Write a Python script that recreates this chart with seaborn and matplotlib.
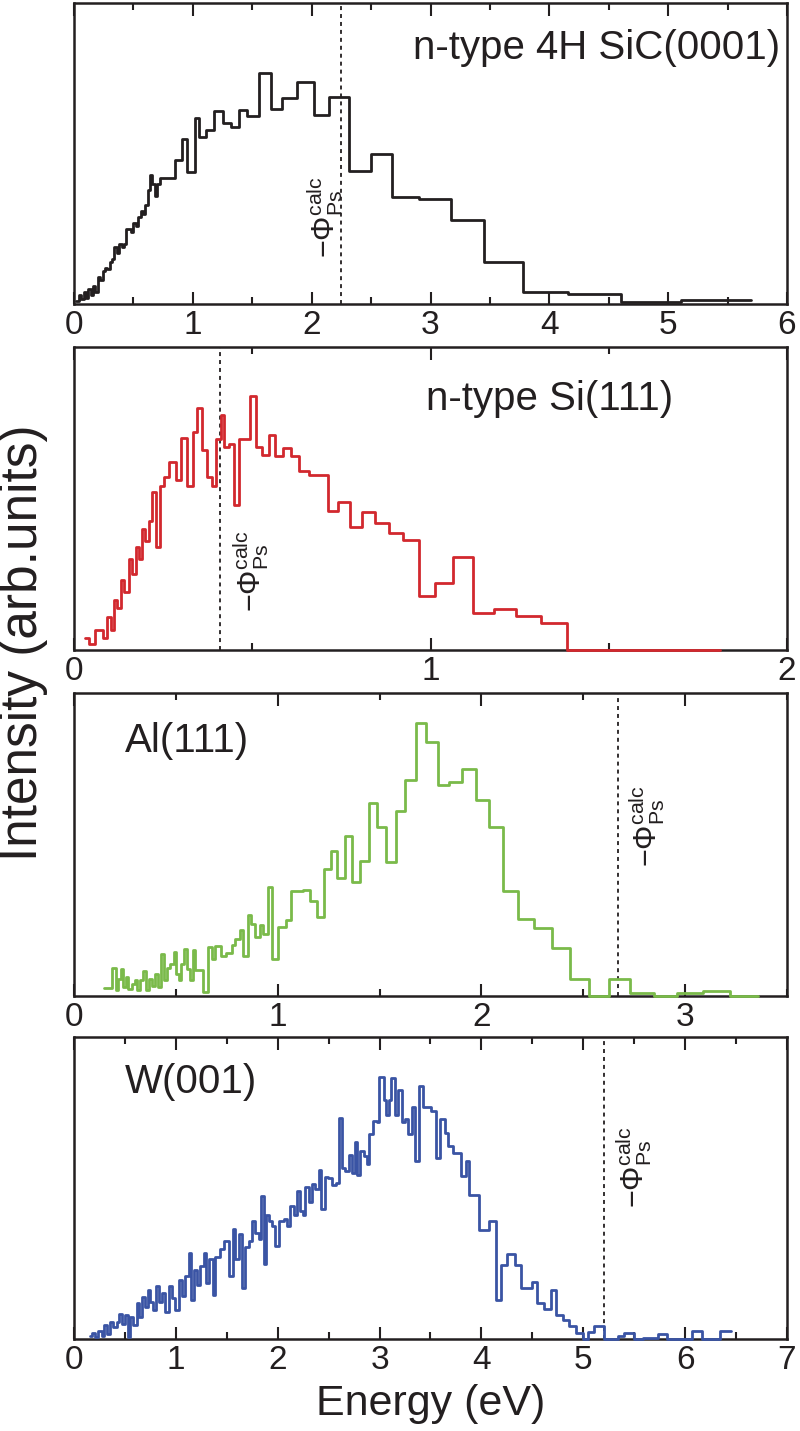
import numpy as np
import pandas as pd
import matplotlib
matplotlib.use("Agg")
import matplotlib.pyplot as plt
from matplotlib.ticker import MultipleLocator
import seaborn as sns

# intensity, as a fraction of each panel's height
# each panel: left bin edges, bin values, last right edge, Phi_Ps position

# n-type 4H SiC(0001)
sic_left = [0.02, 0.04, 0.06, 0.08, 0.10, 0.12, 0.14, 0.16, 0.18, 0.20,
            0.22, 0.24, 0.26, 0.28, 0.30, 0.32, 0.34, 0.36, 0.38, 0.40,
            0.42, 0.44, 0.46, 0.48, 0.50, 0.52, 0.54, 0.56, 0.58, 0.60,
            0.62, 0.64, 0.66, 0.68, 0.70, 0.72, 0.74, 0.85, 0.91, 0.955,
            1.02, 1.05, 1.11, 1.18, 1.25, 1.32, 1.39, 1.46, 1.56, 1.66,
            1.75, 1.88, 2.02, 2.15, 2.31, 2.50, 2.68, 2.90, 3.17, 3.45,
            3.78, 4.16, 4.60, 5.11]
sic_vals = [0.01, 0.03, 0.015, 0.04, 0.02, 0.05, 0.03, 0.06, 0.04, 0.09,
            0.08, 0.11, 0.12, 0.115, 0.14, 0.15, 0.19, 0.17, 0.20, 0.19,
            0.20, 0.25, 0.25, 0.24, 0.27, 0.26, 0.29, 0.31, 0.30, 0.33,
            0.38, 0.43, 0.40, 0.36, 0.40, 0.42, 0.42, 0.48, 0.547, 0.437,
            0.618, 0.556, 0.578, 0.641, 0.60, 0.589, 0.646, 0.624, 0.768, 0.649,
            0.685, 0.739, 0.627, 0.688, 0.442, 0.497, 0.356, 0.348, 0.28, 0.141,
            0.041, 0.033, 0.006, 0.013]
sic_end = 5.70
sic_phi = 2.25

# n-type Si(111)
si_left = [0.032, 0.042, 0.060, 0.080, 0.093, 0.103, 0.112, 0.121, 0.131, 0.140,
           0.154, 0.163, 0.173, 0.182, 0.191, 0.200, 0.210, 0.219, 0.230, 0.242,
           0.252, 0.266, 0.285, 0.300, 0.317, 0.333, 0.345, 0.359, 0.373, 0.387,
           0.397, 0.411, 0.422, 0.435, 0.448, 0.463, 0.494, 0.510, 0.526, 0.548,
           0.565, 0.587, 0.608, 0.632, 0.660, 0.712, 0.740, 0.773, 0.808, 0.844,
           0.883, 0.922, 0.968, 1.013, 1.062, 1.119, 1.179, 1.240, 1.309, 1.383,
           1.50, 1.65]
si_vals = [0.039, 0.02, 0.066, 0.04, 0.11, 0.066, 0.166, 0.14, 0.23, 0.19,
           0.30, 0.25, 0.34, 0.30, 0.40, 0.36, 0.425, 0.52, 0.34, 0.54,
           0.57, 0.62, 0.56, 0.70, 0.54, 0.72, 0.80, 0.66, 0.57, 0.54,
           0.695, 0.775, 0.67, 0.68, 0.48, 0.695, 0.838, 0.67, 0.645, 0.709,
           0.64, 0.668, 0.64, 0.59, 0.577, 0.46, 0.49, 0.407, 0.454, 0.42,
           0.387, 0.363, 0.179, 0.222, 0.308, 0.121, 0.136, 0.113, 0.09, 0.0,
           0.0, 0.0]
si_end = 1.812
si_phi = 0.41

# Al(111)
al_left = [0.148, 0.188, 0.205, 0.218, 0.230, 0.242, 0.253, 0.266, 0.286, 0.299,
           0.310, 0.326, 0.338, 0.354, 0.370, 0.383, 0.396, 0.412, 0.429, 0.443,
           0.456, 0.472, 0.489, 0.500, 0.513, 0.526, 0.542, 0.555, 0.570, 0.583,
           0.594, 0.610, 0.635, 0.656, 0.679, 0.692, 0.721, 0.748, 0.776, 0.789,
           0.813, 0.830, 0.854, 0.870, 0.890, 0.911, 0.927, 0.951, 0.972, 1.000,
           1.040, 1.065, 1.125, 1.160, 1.193, 1.227, 1.260, 1.290, 1.330, 1.364,
           1.405, 1.450, 1.489, 1.534, 1.580, 1.625, 1.677, 1.727, 1.789, 1.840,
           1.905, 1.973, 2.039, 2.107, 2.180, 2.260, 2.345, 2.436, 2.527, 2.625,
           2.727, 2.845, 2.960, 3.090, 3.220]
al_vals = [0.027, 0.093, 0.019, 0.057, 0.09, 0.03, 0.063, 0.024, 0.04, 0.054,
           0.019, 0.052, 0.083, 0.019, 0.056, 0.032, 0.071, 0.03, 0.14, 0.052,
           0.093, 0.107, 0.144, 0.074, 0.052, 0.107, 0.156, 0.09, 0.054, 0.151,
           0.087, 0.085, 0.013, 0.162, 0.123, 0.164, 0.131, 0.142, 0.167, 0.189,
           0.219, 0.131, 0.266, 0.239, 0.195, 0.233, 0.204, 0.36, 0.123, 0.227,
           0.25, 0.347, 0.35, 0.314, 0.261, 0.419, 0.477, 0.391, 0.529, 0.375,
           0.447, 0.636, 0.559, 0.441, 0.609, 0.713, 0.902, 0.837, 0.697, 0.706,
           0.749, 0.648, 0.557, 0.345, 0.255, 0.224, 0.158, 0.057, 0.0, 0.057,
           0.009, 0.0, 0.009, 0.017, 0.0]
al_end = 3.36
al_phi = 2.67

# W(001)
w_left = [0.157, 0.180, 0.207, 0.239, 0.272, 0.298, 0.321, 0.354, 0.387, 0.420,
          0.443, 0.469, 0.502, 0.528, 0.551, 0.584, 0.616, 0.639, 0.666, 0.698,
          0.725, 0.748, 0.780, 0.803, 0.836, 0.862, 0.895, 0.928, 0.961, 0.993,
          1.026, 1.059, 1.092, 1.125, 1.151, 1.174, 1.207, 1.239, 1.272, 1.295,
          1.321, 1.361, 1.387, 1.436, 1.469, 1.518, 1.557, 1.584, 1.616, 1.649,
          1.682, 1.716, 1.748, 1.774, 1.814, 1.840, 1.862, 1.885, 1.912, 1.944,
          1.977, 2.016, 2.058, 2.091, 2.124, 2.157, 2.190, 2.222, 2.245, 2.271,
          2.304, 2.337, 2.369, 2.402, 2.428, 2.461, 2.494, 2.533, 2.572, 2.598,
          2.631, 2.663, 2.696, 2.729, 2.755, 2.778, 2.810, 2.843, 2.876, 2.899,
          2.932, 2.974, 2.997, 3.039, 3.062, 3.088, 3.114, 3.154, 3.180, 3.219,
          3.252, 3.284, 3.317, 3.350, 3.389, 3.431, 3.506, 3.552, 3.595, 3.644,
          3.676, 3.720, 3.800, 3.850, 3.880, 3.980, 4.070, 4.140, 4.190, 4.250,
          4.330, 4.390, 4.500, 4.550, 4.610, 4.680, 4.730, 4.800, 4.860, 4.930,
          5.000, 5.050, 5.110, 5.200, 5.340, 5.400, 5.500, 5.590, 5.730, 5.820,
          6.070, 6.170, 6.340]
w_vals = [0.01, 0.02, 0.006, 0.028, 0.011, 0.045, 0.017, 0.056, 0.039, 0.056,
          0.084, 0.05, 0.079, 0.006, 0.073, 0.045, 0.118, 0.073, 0.14, 0.107,
          0.163, 0.124, 0.095, 0.174, 0.124, 0.152, 0.09, 0.174, 0.135, 0.095,
          0.196, 0.141, 0.208, 0.286, 0.129, 0.23, 0.18, 0.241, 0.286, 0.185,
          0.264, 0.146, 0.27, 0.297, 0.325, 0.21, 0.365, 0.264, 0.348, 0.168,
          0.303, 0.324, 0.392, 0.352, 0.33, 0.474, 0.249, 0.409, 0.392, 0.375,
          0.308, 0.392, 0.397, 0.375, 0.442, 0.409, 0.489, 0.425, 0.409, 0.504,
          0.453, 0.512, 0.498, 0.56, 0.429, 0.538, 0.534, 0.51, 0.515, 0.732,
          0.566, 0.557, 0.608, 0.549, 0.653, 0.543, 0.622, 0.605, 0.579, 0.68,
          0.723, 0.72, 0.866, 0.79, 0.743, 0.792, 0.863, 0.743, 0.824, 0.717,
          0.728, 0.678, 0.768, 0.588, 0.837, 0.768, 0.756, 0.599, 0.728, 0.683,
          0.64, 0.615, 0.54, 0.59, 0.476, 0.36, 0.39, 0.129, 0.244, 0.283,
          0.244, 0.168, 0.189, 0.12, 0.10, 0.162, 0.08, 0.064, 0.044, 0.02,
          0.0, 0.022, 0.044, 0.0, 0.009, 0.02, 0.0, 0.003, 0.018, 0.0,
          0.027, 0.0, 0.027]
w_end = 6.45
w_phi = 5.2

sns.set_theme(style="ticks")
plt.rcParams['font.family'] = ['Liberation Sans', 'DejaVu Sans']
plt.rcParams['mathtext.fontset'] = 'custom'
plt.rcParams['mathtext.rm'] = 'Liberation Sans'
plt.rcParams['mathtext.it'] = 'Liberation Sans:italic'
plt.rcParams['mathtext.bf'] = 'Liberation Sans:bold'

W, H = 800, 1431
fig = plt.figure(figsize=(W / 100, H / 100), dpi=100)
ink = '#231f20'

# (left, vals, end, phi, colour, xmax, label, label pos, phi label pos, box top/bottom px)
panels = [
    (sic_left, sic_vals, sic_end, sic_phi, ink, 6, 'n-type 4H SiC(0001)',
     (0.99, 0.85, 'right'), (2.11, 0.29), (3, 304)),
    (si_left, si_vals, si_end, si_phi, '#d2282e', 2, 'n-type Si(111)',
     (0.494, 0.83, 'left'), (0.496, 0.26), (347, 650)),
    (al_left, al_vals, al_end, al_phi, '#7aba4a', 3.5, 'Al(111)',
     (0.071, 0.84, 'left'), (2.81, 0.56), (693, 996)),
    (w_left, w_vals, w_end, w_phi, '#3a54a4', 7, 'W(001)',
     (0.071, 0.85, 'left'), (5.5, 0.57), (1037, 1339)),
]

x0, x1 = 74, 787
for i, (left, vals, end, phi, col, xmax, label, lpos, ppos, (top, bot)) in enumerate(panels):
    ax = fig.add_axes([x0 / W, 1 - bot / H, (x1 - x0) / W, (bot - top) / H])
    edges = left + [end]
    mids = [(a + b) / 2 for a, b in zip(edges[:-1], edges[1:])]
    df = pd.DataFrame({'energy': mids, 'intensity': vals})
    sns.histplot(data=df, x='energy', weights='intensity', bins=edges,
                 element='step', fill=False, color=col, linewidth=2.0, ax=ax)
    # keep the curve above the frame so zero-level stretches stay visible
    for ln in ax.lines:
        ln.set_zorder(4)
        ln.set_clip_on(False)
    ax.axvline(phi, color=ink, lw=1.3, ls=(0, (2.2, 2.2)), zorder=2)
    ax.set_xlim(0, xmax)
    ax.set_ylim(0, 1.0)
    ax.set_yticks([])
    ax.set_ylabel('')
    ax.set_xlabel('')
    ax.xaxis.set_major_locator(MultipleLocator(1))
    ax.xaxis.set_minor_locator(MultipleLocator(0.5))
    ax.tick_params(axis='x', which='both', direction='in', top=True,
                   labelsize=24, pad=4, color=ink, labelcolor=ink)
    ax.tick_params(axis='x', which='major', length=9, width=1.5)
    ax.tick_params(axis='x', which='minor', length=5, width=1.5)
    for s in ax.spines.values():
        s.set_visible(True)
        s.set_linewidth(1.8)
        s.set_color(ink)
    ax.text(lpos[0], lpos[1], label, transform=ax.transAxes, ha=lpos[2],
            va='center', fontsize=29, color=ink)
    ax.text(ppos[0], ppos[1], r'$-\Phi_{\mathrm{Ps}}^{\mathrm{calc}}$',
            transform=ax.get_xaxis_transform(), rotation=90, ha='center',
            va='center', fontsize=22, color=ink)
    if i == 3:
        ax.set_xlabel('Energy (eV)', fontsize=31, color=ink, labelpad=6)

fig.text(0.030, 0.551, 'Intensity (arb.units)', rotation=90, ha='center',
         va='center', fontsize=37, color=ink)

fig.savefig('out.png', dpi=100)
